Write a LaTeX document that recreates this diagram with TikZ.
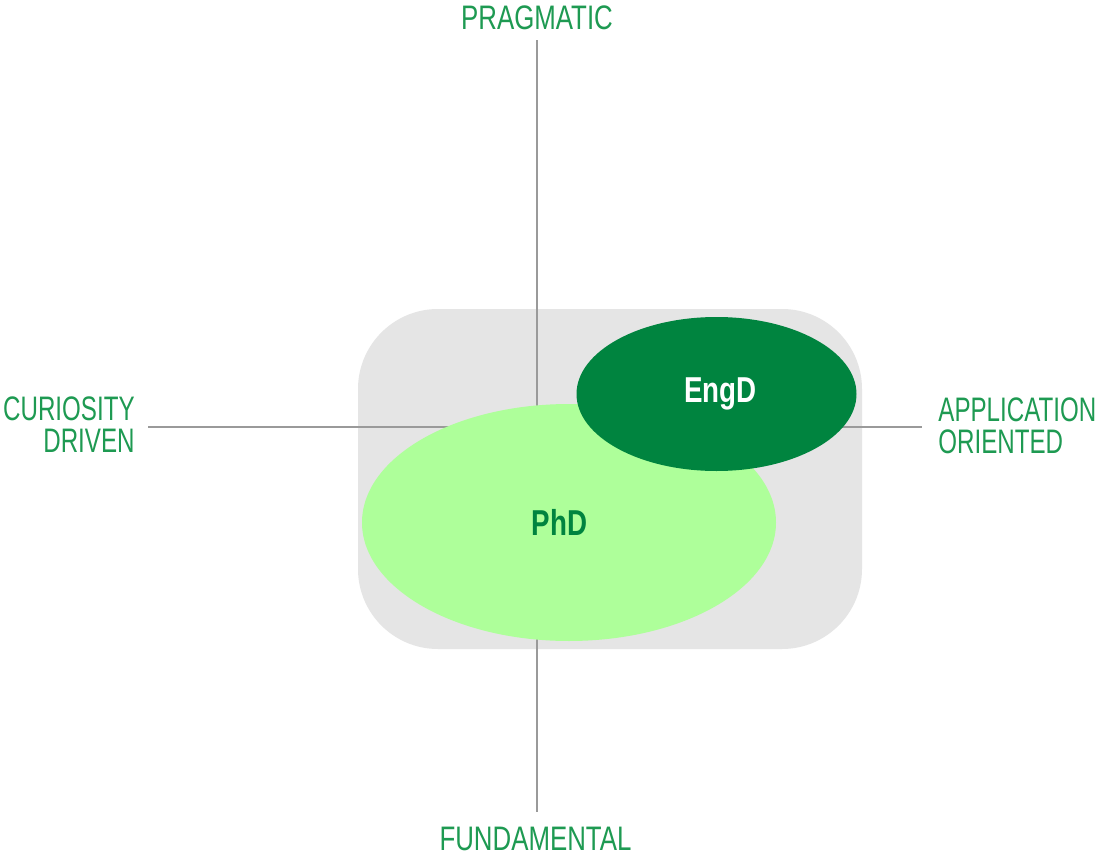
\documentclass[tikz,border=0pt]{standalone}
\usepackage{fontspec}
\usepackage{xcolor}
\usepackage{tikz}
\usetikzlibrary{shapes.geometric}
\newfontfamily\condfont{Liberation Sans}[FakeStretch=0.76]
\newfontfamily\sidefont{Liberation Sans}[FakeStretch=0.71]
\newfontfamily\boldcond{Liberation Sans}[FakeStretch=0.77]
\definecolor{bg}{HTML}{FFFFFF}
\definecolor{boxgrey}{HTML}{E5E5E5}
\definecolor{axisgrey}{HTML}{9A9A9A}
\definecolor{labgreen}{HTML}{1E9A52}
\definecolor{darkgreen}{HTML}{00843F}
\definecolor{lightgreen}{HTML}{AEFF9A}
\tikzset{
  axis/.style={draw=axisgrey, line width=0.6pt},
  field/.style={fill=boxgrey, rounded corners=40pt},
  blob/.style={ellipse, inner sep=0pt},
  blobtext/.style={inner sep=0pt, font=\boldcond\bfseries\fontsize{18}{19}\selectfont},
  lab/.style={text=labgreen, inner sep=0pt, font=\condfont\fontsize{17}{16}\selectfont},
  sidelab/.style={lab, font=\sidefont\fontsize{17}{16}\selectfont}
}
\begin{document}
\begin{tikzpicture}[x=0.5pt,y=-0.5pt]
  \useasboundingbox[fill=bg] (0,0) rectangle (1110,862);
  \fill[field] (358,309) rectangle (862,649);
  \coordinate (top) at (537,40);
  \coordinate (bot) at (537,812);
  \coordinate (left) at (148,427);
  \coordinate (right) at (922,427);
  \draw[axis] (top)--(bot);
  \draw[axis] (left)--(right);
  % the two degrees
  \node[blob, fill=lightgreen, minimum width=207pt, minimum height=118.5pt] (phd) at (569,522.5) {};
  \node[blob, fill=darkgreen, minimum width=140pt, minimum height=77pt] (engd) at (716.5,394) {};
  \node[blobtext, text=darkgreen, anchor=base] (phdlab) at (559.5,535) {PhD};
  \node[blobtext, text=white, anchor=base] (engdlab) at (720.5,402) {EngD};
  % axis ends
  \node[lab, anchor=base] (prag) at (537,30) {PRAGMATIC};
  \node[lab, anchor=base] (fund) at (535.5,850) {FUNDAMENTAL};
  \node[sidelab, anchor=east, align=right] (cur) at (135,425) {CURIOSITY\\DRIVEN};
  \node[sidelab, anchor=west, align=left] (app) at (938,425.5) {APPLICATION\\ORIENTED};
\end{tikzpicture}
\end{document}
